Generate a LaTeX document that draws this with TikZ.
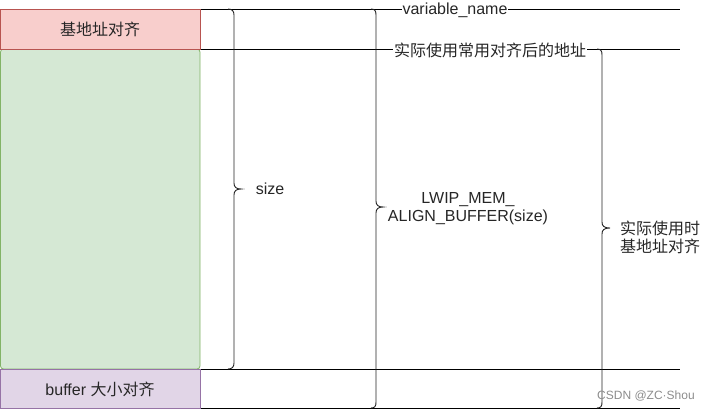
\documentclass[tikz,border=0pt]{standalone}
\usepackage{fontspec}
\setmainfont{Liberation Sans}
\newfontfamily\cjk{Noto Sans CJK SC}
\definecolor{redfill}{HTML}{F8CECC}
\definecolor{redline}{HTML}{B85450}
\definecolor{greenfill}{HTML}{D5E8D4}
\definecolor{greenline}{HTML}{82B366}
\definecolor{purplefill}{HTML}{E1D5E7}
\definecolor{purpleline}{HTML}{9673A6}
\definecolor{bracecol}{HTML}{222222}
\tikzset{
  x=1pt, y=-1pt,
  lbl/.style={font=\fontsize{16}{18}\selectfont, text=black!85, align=center, inner sep=1pt},
  onl/.style={lbl, fill=white},
  hline/.style={draw=black, line width=0.9pt},
  bracel/.style={draw=bracecol, line width=0.9pt},
  boxred/.style={fill=redfill, draw=redline, line width=0.8pt},
  boxgreen/.style={fill=greenfill, draw=greenline, line width=0.8pt},
  boxpurple/.style={fill=purplefill, draw=purpleline, line width=0.8pt},
}
\begin{document}
\begin{tikzpicture}
\useasboundingbox (0,0) rectangle (711,410);
% horizontal lines
\draw[hline] (200,9) -- (680,9);
\draw[hline] (200,49) -- (680,49);
\draw[hline] (200,369) -- (680,369);
\draw[hline] (200,408) -- (680,408);
% boxes
\draw[boxgreen, rounded corners=3pt] (0.5,49) -- (0.5,369) -- (200,369) -- (200,49) -- cycle;
\draw[boxred] (0.5,9) rectangle (200,49);
\draw[boxpurple] (0.5,369) rectangle (200,408.5);
\node[lbl] (base) at (100,29) {\cjk 基地址对齐};
\node[lbl] (buf) at (100,389) {buffer \cjk 大小对齐};
% braces
\draw[bracel] (228,9) .. controls (232,9) and (234,11) .. (234,15) -- (234,183)
  .. controls (234,187) and (236,189) .. (241,189)
  .. controls (236,189) and (234,191) .. (234,195) -- (234,363)
  .. controls (234,367) and (232,369) .. (228,369);
\draw[bracel] (371,9) .. controls (375,9) and (376,11) .. (376,15) -- (376,201)
  .. controls (376,205) and (378,207) .. (383,207)
  .. controls (378,207) and (376,209) .. (376,213) -- (376,402)
  .. controls (376,406) and (375,408) .. (371,408);
\draw[bracel] (597,49) .. controls (601,49) and (602,51) .. (602,55) -- (602,222)
  .. controls (602,226) and (604,228) .. (610,228)
  .. controls (604,228) and (602,230) .. (602,234) -- (602,402)
  .. controls (602,406) and (601,408) .. (597,408);
% labels
\node[onl] (var) at (455,10) {variable\_name};
\node[onl] (addr) at (490,50) {\cjk 实际使用常用对齐后的地址};
\node[lbl] (size) at (270,189) {size};
\node[lbl] (macro) at (468,209) {LWIP\_MEM\_\\ALIGN\_BUFFER(size)};
\node[lbl] (real) at (660,237) {\cjk 实际使用时\\\cjk 基地址对齐};
\node[font=\fontsize{12}{14}\selectfont, text=black!45, inner sep=0pt] (wm) at (646,396) {CSDN @ZC·Shou};
\end{tikzpicture}
\end{document}
